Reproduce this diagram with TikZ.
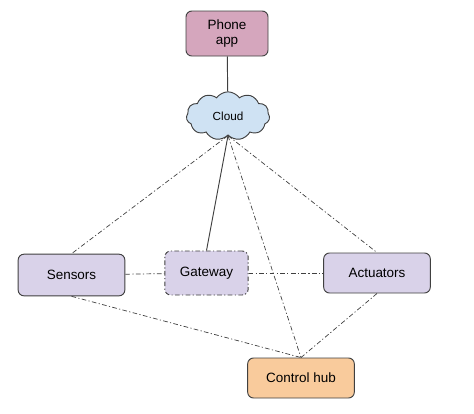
\documentclass[tikz,border=0pt]{standalone}
\usepackage{fontspec}
\setmainfont{Liberation Sans}
\usepackage{xcolor}
\usepackage{tikz}
\usetikzlibrary{shapes.symbols}
\definecolor{edge}{HTML}{404040}
\definecolor{phone}{HTML}{D5A6BD}
\definecolor{sky}{HTML}{CFE2F3}
\definecolor{lilac}{HTML}{D9D2E9}
\definecolor{peach}{HTML}{F9CB9C}
\tikzset{
  device/.style={draw=edge, rounded corners=5pt, fill=lilac, minimum width=3.2cm,
                 minimum height=1.25cm, font=\fontsize{11.5}{13.5}\selectfont, align=center, thick},
  link/.style={draw=edge, thick},
  dotlink/.style={draw=edge, semithick, dash pattern=on 4pt off 2pt on 1pt off 2pt}
}

\begin{document}
\begin{tikzpicture}[x=0.03cm, y=-0.03cm]
  \useasboundingbox (0,0) rectangle (474,413);
  % nodes
  \node[device, fill=phone, minimum width=2.46cm, minimum height=1.35cm] (phone) at (227,33.5) {Phone\\app};
  \node[draw=edge, thick, fill=sky, cloud, cloud puffs=11, cloud puff arc=110, aspect=1.9,
        minimum width=2.5cm, minimum height=1.45cm, inner sep=0pt,
        font=\fontsize{10}{12}\selectfont] (cloud) at (228,116) {Cloud};
  \node[device] (sensors) at (71.5,275) {Sensors};
  \node[device, minimum width=2.5cm, minimum height=1.32cm,
        dash pattern=on 4pt off 2pt on 1pt off 2pt] (gateway) at (206.5,273) {Gateway};
  \node[device, minimum height=1.2cm] (actuators) at (377,273) {Actuators};
  \node[device, fill=peach, minimum height=1.2cm] (hub) at (301,378) {Control hub};
  % links
  \draw[link] (phone) -- (cloud);
  \draw[link] (cloud.south) -- (gateway.north);
  \draw[dotlink] (cloud.south) -- (sensors.north);
  \draw[dotlink] (cloud.south) -- (actuators.north);
  \draw[dotlink] (cloud.south) -- (hub.north);
  \draw[dotlink] (sensors) -- (gateway);
  \draw[dotlink] (gateway) -- (actuators);
  \draw[dotlink] (sensors.south) -- (hub.north);
  \draw[dotlink] (actuators.south) -- (hub.north);
\end{tikzpicture}
\end{document}
